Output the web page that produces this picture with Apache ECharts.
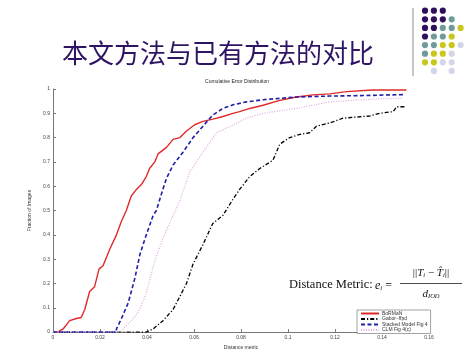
<!DOCTYPE html>
<html><head><meta charset="utf-8">
<script src="https://cdn.jsdelivr.net/npm/echarts@6/dist/echarts.min.js"></script>
<style>html,body{margin:0;padding:0;background:#fff}#c{width:474px;height:355px}</style>
</head><body><div id="c"></div>
<script>
const xTicks = ['0','0.02','0.04','0.06','0.08','0.1','0.12','0.14','0.16'];
const yTicks = ['0','0.1','0.2','0.3','0.4','0.5','0.6','0.7','0.8','0.9','1'];
const seriesNames = ['BoRMaN','Gabor\u2212ffpd','Stacked Model Fig 4','CLM Fig 4(c)'];

const borman = [[0,0],[0.002,0],[0.0043,0.013],[0.0071,0.047],[0.010,0.056],[0.012,0.06],[0.0135,0.093],[0.0156,0.167],[0.0177,0.187],[0.0196,0.26],[0.0213,0.273],[0.0241,0.34],[0.027,0.40],[0.029,0.453],[0.0312,0.5],[0.0333,0.56],[0.0355,0.587],[0.0376,0.607],[0.0397,0.64],[0.0411,0.673],[0.0433,0.70],[0.0447,0.733],[0.0483,0.76],[0.0511,0.793],[0.054,0.80],[0.0568,0.827],[0.0603,0.853],[0.0638,0.867],[0.068,0.876],[0.0723,0.887],[0.0766,0.900],[0.0794,0.907],[0.0837,0.92],[0.0894,0.933],[0.0965,0.953],[0.1036,0.967],[0.1106,0.976],[0.1177,0.98],[0.1249,0.989],[0.136,0.996],[0.1504,0.996]];
const gabor = [[0,0],[0.0397,0],[0.0426,0.013],[0.0468,0.047],[0.0511,0.093],[0.054,0.147],[0.0568,0.20],[0.0596,0.28],[0.0638,0.36],[0.068,0.447],[0.0723,0.48],[0.0766,0.547],[0.0794,0.587],[0.0837,0.64],[0.088,0.673],[0.0936,0.707],[0.0965,0.773],[0.1007,0.80],[0.105,0.813],[0.1092,0.82],[0.1121,0.847],[0.1177,0.86],[0.1234,0.88],[0.1348,0.889],[0.139,0.90],[0.1448,0.907],[0.1462,0.927],[0.1497,0.927]];
const stacked = [[0,0],[0.027,0],[0.027,0.013],[0.029,0.053],[0.032,0.12],[0.0348,0.22],[0.037,0.32],[0.0397,0.40],[0.0426,0.48],[0.044,0.50],[0.0461,0.567],[0.0483,0.633],[0.0511,0.687],[0.0553,0.74],[0.0596,0.80],[0.0638,0.847],[0.068,0.893],[0.0723,0.92],[0.0766,0.935],[0.0823,0.947],[0.0894,0.956],[0.1036,0.967],[0.1177,0.971],[0.132,0.973],[0.149,0.977]];
const clm = [[0,0],[0.0298,0],[0.0298,0.013],[0.034,0.053],[0.0369,0.093],[0.0397,0.16],[0.0433,0.293],[0.0468,0.387],[0.0511,0.48],[0.054,0.54],[0.0582,0.66],[0.0638,0.74],[0.0695,0.82],[0.0752,0.845],[0.0823,0.88],[0.0894,0.90],[0.1036,0.92],[0.1177,0.947],[0.132,0.956],[0.1404,0.96],[0.149,0.962]];

const dots = [
 ['P','P','P',null,null],
 ['P','P','P','T',null],
 ['P','P','T','T','Y'],
 ['P','T','T','Y',null],
 ['T','T','Y','Y','L'],
 ['T','Y','Y','L',null],
 ['Y','Y','L','L',null],
 [null,'L',null,'L',null]
];
const dotColors = {P:'#2d0f5c',T:'#6f9b9b',Y:'#c9c71d',L:'#d3d6e8'};

const chart = echarts.init(document.getElementById('c'), null, {renderer:'canvas'});
const graphics = [];
graphics.push({type:'text', left:62, top:40, style:{text:'本文方法与已有方法的对比', fontSize:26, fontFamily:'Noto Sans CJK SC', fill:'#2e1463'}});
graphics.push({type:'line', shape:{x1:413,y1:8,x2:413,y2:76}, style:{stroke:'#a0a0a0', lineWidth:1.2}});
dots.forEach((row,r)=>row.forEach((c,k)=>{ if(c){ graphics.push({type:'circle', shape:{cx:425+k*8.9, cy:10.7+r*8.6, r:3.1}, style:{fill:dotColors[c]}}); }}));
graphics.push({type:'text', left:'center', top:79, style:{text:'Cumulative Error Distribution', fontSize:5, fill:'#222', fontFamily:'Liberation Sans'}});
graphics.push({type:'text', x:289, y:285, style:{text:'Distance Metric:', fontSize:12.5, fontFamily:'Liberation Serif', fill:'#111', textVerticalAlign:'middle'}});
graphics.push({type:'text', x:375, y:286, style:{text:'{i|e}{s|i} {n|=}', fontFamily:'Liberation Serif', fill:'#111', textVerticalAlign:'middle', rich:{i:{fontSize:12, fontStyle:'italic', fontFamily:'Liberation Serif'}, s:{fontSize:7, fontStyle:'italic', fontFamily:'Liberation Serif', verticalAlign:'bottom', padding:[4,0,0,0]}, n:{fontSize:12, fontFamily:'Liberation Serif'}}}});
graphics.push({type:'text', x:431, y:273, style:{text:'{r|||}{i|T}{s|i}{r| \u2212 }{i|T\u0302}{s|i}{r|||}', fontFamily:'Liberation Serif', fill:'#111', textAlign:'center', textVerticalAlign:'middle', rich:{r:{fontSize:11, fontFamily:'Liberation Serif'}, i:{fontSize:11, fontStyle:'italic', fontFamily:'Liberation Serif'}, s:{fontSize:6.5, fontStyle:'italic', fontFamily:'Liberation Serif', padding:[4,0,0,0]}}}});
graphics.push({type:'line', shape:{x1:400,y1:283.5,x2:462,y2:283.5}, style:{stroke:'#222', lineWidth:0.8}});
graphics.push({type:'text', x:431, y:294, style:{text:'{i|d}{s|IOD}', fontFamily:'Liberation Serif', fill:'#111', textAlign:'center', textVerticalAlign:'middle', rich:{i:{fontSize:11, fontStyle:'italic', fontFamily:'Liberation Serif'}, s:{fontSize:6.5, fontStyle:'italic', fontFamily:'Liberation Serif', padding:[4,0,0,0]}}}});

const mkSeries = (name, data, color, type, width) => ({
  name, type:'line', data, symbol:'none', animation:false,
  lineStyle:{color, width, type}, itemStyle:{color}
});

chart.setOption({
  animation:false,
  backgroundColor:'#fff',
  grid:{left:53, right:45, top:89, bottom:15},
  xAxis:{type:'value', min:0, max:0.16, interval:0.02,
    name:'Distance metric', nameLocation:'middle', nameGap:10, nameTextStyle:{fontSize:5, color:'#333'},
    axisLine:{lineStyle:{color:'#777', width:1}},
    axisTick:{inside:true, length:3, lineStyle:{color:'#777'}},
    axisLabel:{fontSize:5, color:'#444', margin:3, formatter:(v)=>xTicks[Math.round(v/0.02)]},
    splitLine:{show:false}},
  yAxis:{type:'value', min:0, max:1, interval:0.1,
    name:'Fraction of Images', nameLocation:'middle', nameGap:14, nameTextStyle:{fontSize:5, color:'#333'},
    axisLine:{show:true, lineStyle:{color:'#777', width:1}},
    axisTick:{show:true, inside:true, length:3, lineStyle:{color:'#777'}},
    axisLabel:{fontSize:5, color:'#444', margin:3, formatter:(v)=>yTicks[Math.round(v*10)]},
    splitLine:{show:false}},
  legend:{left:357, top:310, orient:'vertical', itemGap:0.5, itemWidth:18, itemHeight:5,
    padding:[1,3,1,3], borderColor:'#666', borderWidth:0.6, backgroundColor:'#fff',
    itemStyle:{opacity:0},
    textStyle:{fontSize:5, color:'#333', padding:[0,0,0,-2]}, data:seriesNames},
  series:[
    mkSeries(seriesNames[0], borman, '#e02a2a', 'solid', 1.4),
    mkSeries(seriesNames[1], gabor, '#000000', [4,2,1.2,2], 1.3),
    mkSeries(seriesNames[2], stacked, '#1f1fa8', [4,2.5], 1.6),
    mkSeries(seriesNames[3], clm, '#e0a8e0', [1,1.5], 1.2)
  ],
  graphic:graphics
});
</script></body></html>
